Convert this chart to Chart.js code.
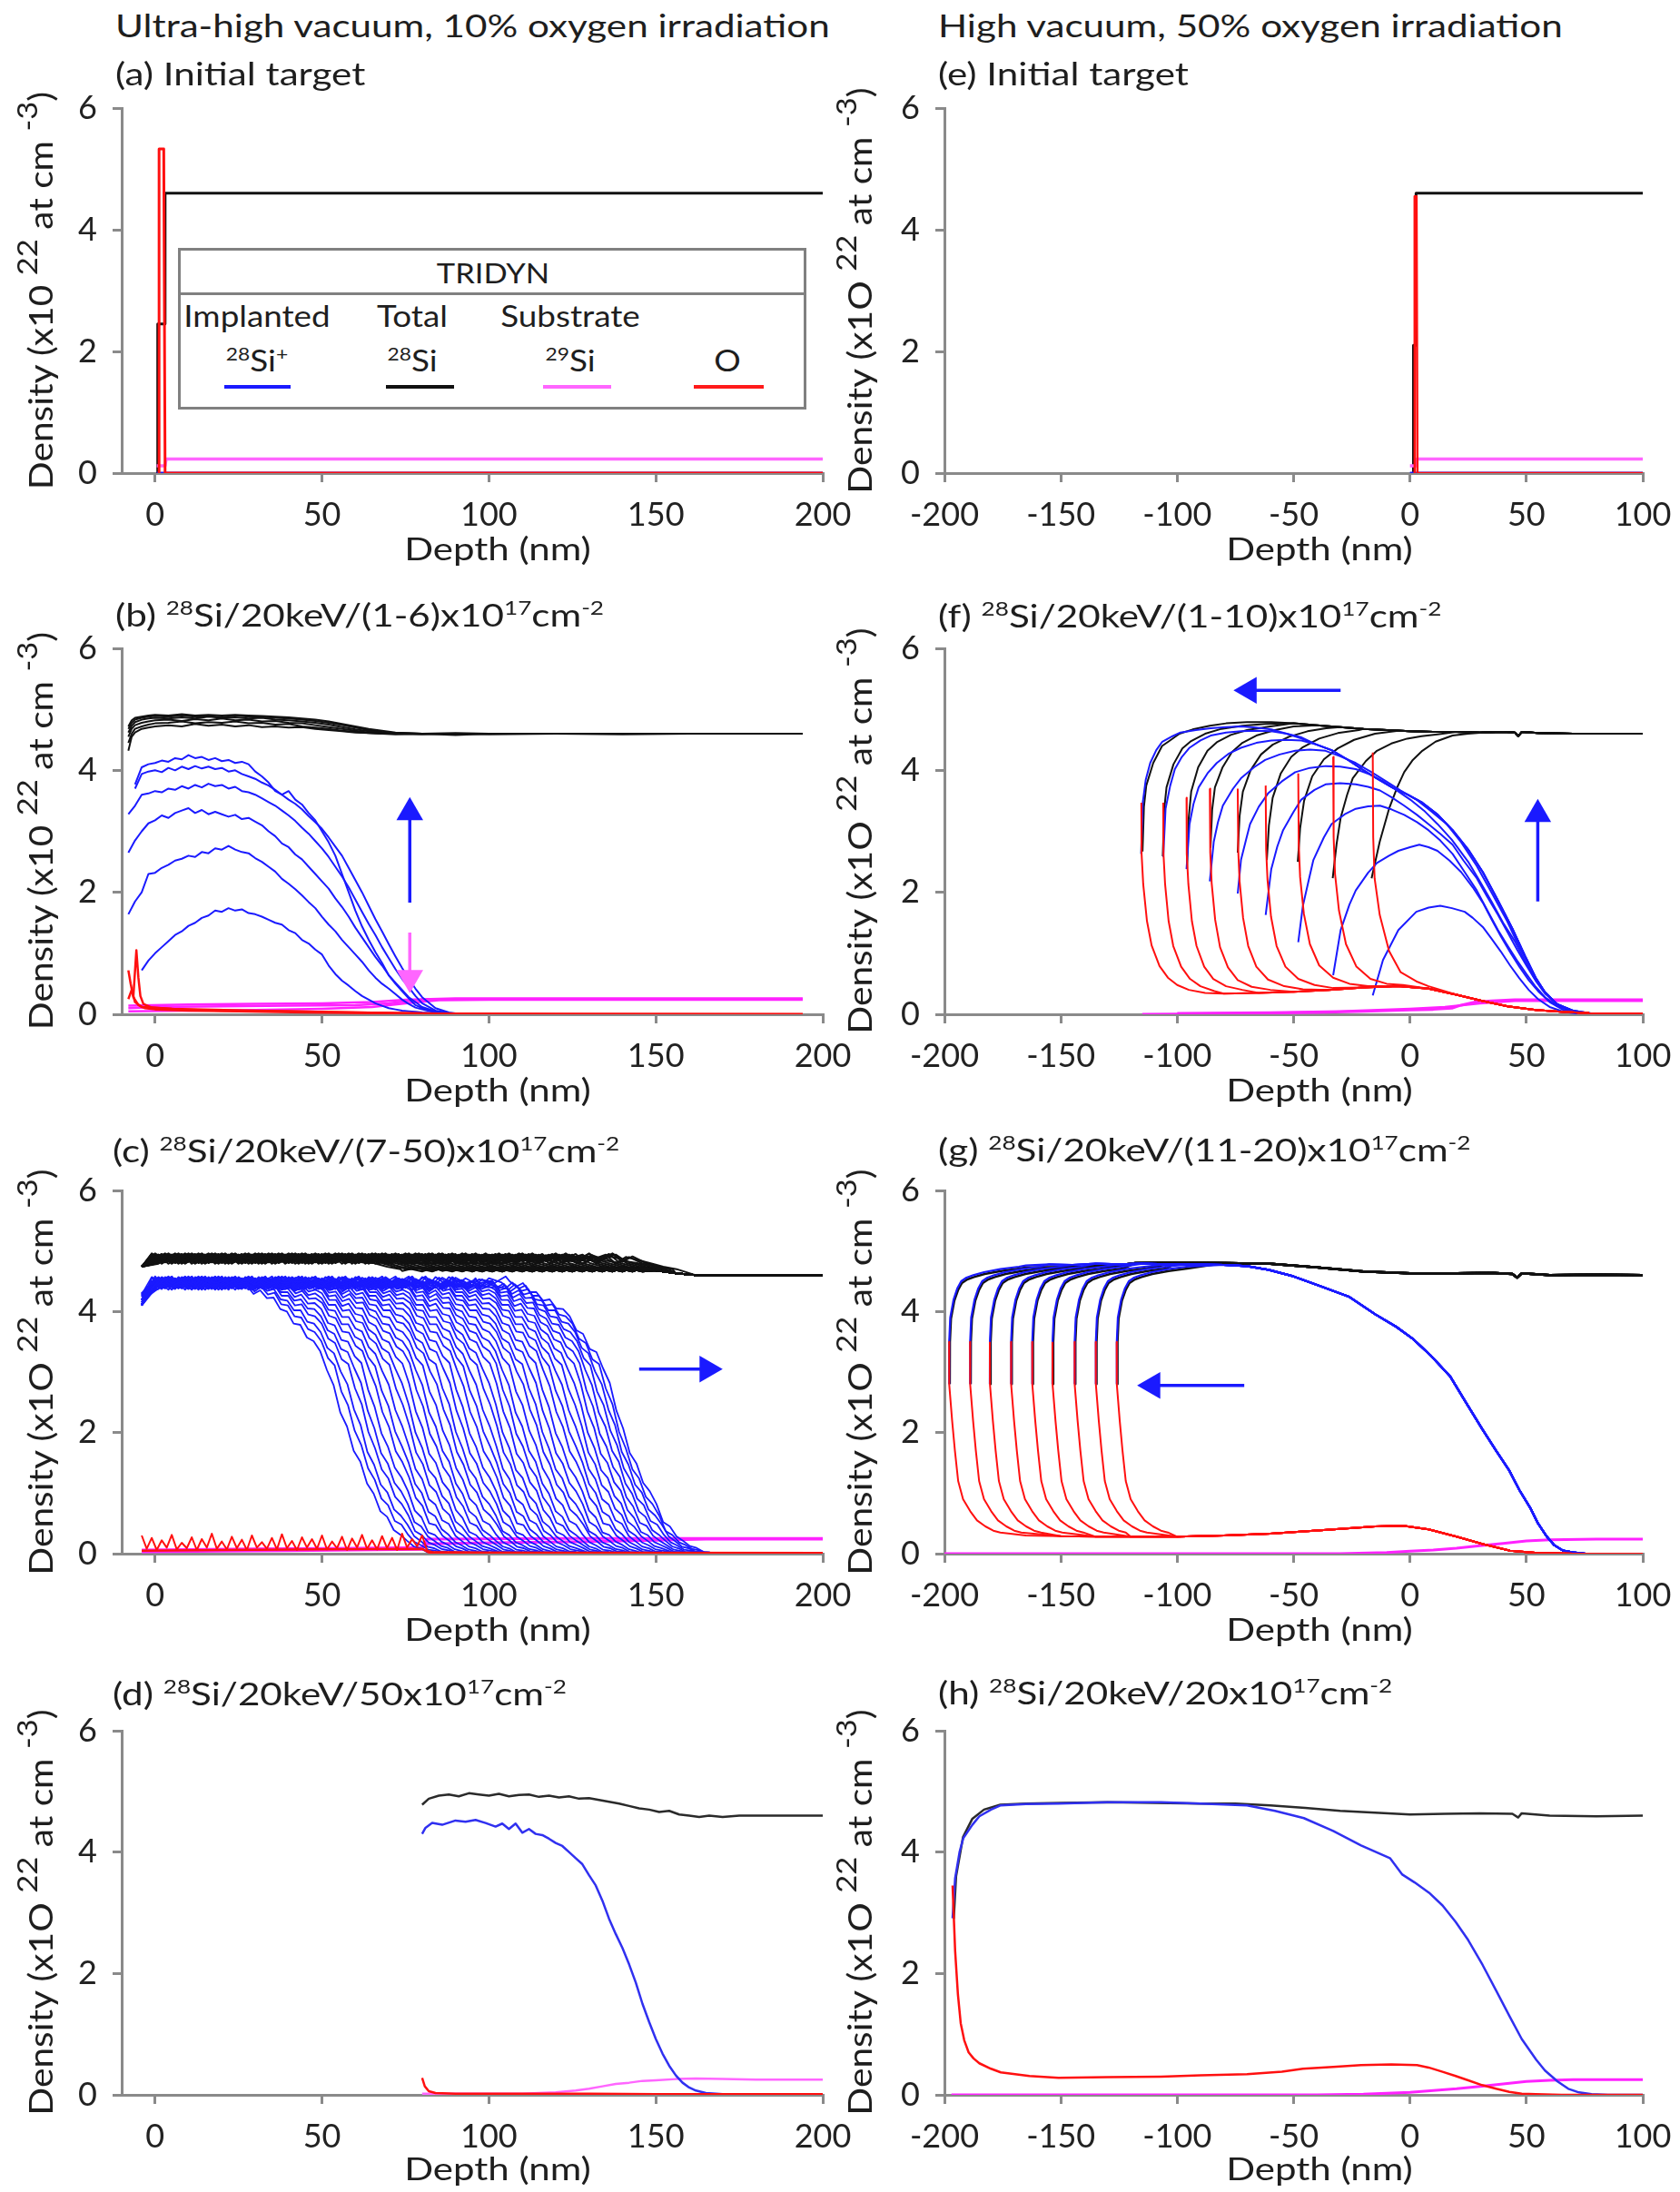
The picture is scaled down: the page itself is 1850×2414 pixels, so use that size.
<!DOCTYPE html>
<html>
<head>
<meta charset="utf-8">
<script src="https://cdn.jsdelivr.net/npm/chart.js@4.4.1/dist/chart.umd.min.js"></script>
<style>
  body { margin: 0; background: #fff; width: 1850px; height: 2414px; position: relative; overflow: hidden; font-family: Lato, sans-serif; color: #1e1e1e; }
  canvas { position: absolute; }
  .t { position: absolute; font-size: 34px; line-height: 1; white-space: nowrap; transform: translateY(-50%) scaleX(1.24); transform-origin: 0 50%; }
  .t sup, .lg sup { font-size: 0.62em; vertical-align: 0.62em; line-height: 0; }
  .c { position: absolute; font-size: 35px; line-height: 1; white-space: nowrap; transform: translate(-50%, -50%) scaleX(1.2); }
  .yt { position: absolute; font-size: 36px; line-height: 1; white-space: nowrap; transform: translate(-50%, -50%) rotate(-90deg) scaleX(1.13); }
  .yt .up { position: relative; top: -0.55em; font-size: 0.85em; }
  .legend { position: absolute; left: 196px; top: 273px; width: 692px; height: 178px; box-sizing: border-box; border: 3px solid #808080; background: #fff; }
  .lg { position: absolute; font-size: 32px; line-height: 1; white-space: nowrap; transform: translate(-50%, -50%) scaleX(1.15); }
  .sw { position: absolute; height: 4px; }
</style>
</head>
<body>
<div id="plots"></div>

<div class="t" style="left:127px;top:28px">Ultra-high vacuum, 10% oxygen irradiation</div>
<div class="t" style="left:1033px;top:28px">High vacuum, 50% oxygen irradiation</div>
<div class="t" style="left:127px;top:81px">(a) Initial target</div>
<div class="t" style="left:1033px;top:81px">(e) Initial target</div>
<div class="t" style="left:127px;top:677px">(b) <sup>28</sup>Si/20keV/(1-6)x10<sup>17</sup>cm<sup>-2</sup></div>
<div class="t" style="left:1033px;top:678px">(f) <sup>28</sup>Si/20keV/(1-10)x10<sup>17</sup>cm<sup>-2</sup></div>
<div class="t" style="left:124px;top:1267px">(c) <sup>28</sup>Si/20keV/(7-50)x10<sup>17</sup>cm<sup>-2</sup></div>
<div class="t" style="left:1033px;top:1266px">(g) <sup>28</sup>Si/20keV/(11-20)x10<sup>17</sup>cm<sup>-2</sup></div>
<div class="t" style="left:124px;top:1865px">(d) <sup>28</sup>Si/20keV/50x10<sup>17</sup>cm<sup>-2</sup></div>
<div class="t" style="left:1033px;top:1864px">(h) <sup>28</sup>Si/20keV/20x10<sup>17</sup>cm<sup>-2</sup></div>

<div class="c" style="left:548px;top:603px">Depth (nm)</div>
<div class="c" style="left:1453px;top:603px">Depth (nm)</div>
<div class="c" style="left:548px;top:1199px">Depth (nm)</div>
<div class="c" style="left:1453px;top:1199px">Depth (nm)</div>
<div class="c" style="left:548px;top:1793px">Depth (nm)</div>
<div class="c" style="left:1453px;top:1793px">Depth (nm)</div>
<div class="c" style="left:548px;top:2387px">Depth (nm)</div>
<div class="c" style="left:1453px;top:2387px">Depth (nm)</div>

<div class="yt" style="left:44px;top:320px">Density (x10 <span class="up">22</span> at cm <span class="up">-3</span>)</div>
<div class="yt" style="left:44px;top:915px">Density (x10 <span class="up">22</span> at cm <span class="up">-3</span>)</div>
<div class="yt" style="left:44px;top:1511px">Density (x1O <span class="up">22</span> at cm <span class="up">-3</span>)</div>
<div class="yt" style="left:44px;top:2106px">Density (x1O <span class="up">22</span> at cm <span class="up">-3</span>)</div>
<div class="yt" style="left:946px;top:320px">Density (x1O <span class="up">22</span> at cm <span class="up">-3</span>)</div>
<div class="yt" style="left:946px;top:915px">Density (x1O <span class="up">22</span> at cm <span class="up">-3</span>)</div>
<div class="yt" style="left:946px;top:1511px">Density (x1O <span class="up">22</span> at cm <span class="up">-3</span>)</div>
<div class="yt" style="left:946px;top:2106px">Density (x1O <span class="up">22</span> at cm <span class="up">-3</span>)</div>

<div class="legend"><div style="position:absolute;left:0;right:0;top:46px;height:3px;background:#808080"></div></div>
<div class="lg" style="left:543px;top:300px;font-size:30px">TRIDYN</div>
<div class="lg" style="left:283px;top:348px">Implanted</div>
<div class="lg" style="left:454px;top:348px">Total</div>
<div class="lg" style="left:628px;top:348px">Substrate</div>
<div class="lg" style="left:283px;top:397px"><sup>28</sup>Si<sup>+</sup></div>
<div class="lg" style="left:454px;top:397px"><sup>28</sup>Si</div>
<div class="lg" style="left:628px;top:397px"><sup>29</sup>Si</div>
<div class="lg" style="left:801px;top:397px">O</div>
<div class="sw" style="left:247px;top:424px;width:73px;background:#1a1aff"></div>
<div class="sw" style="left:425px;top:424px;width:75px;background:#111"></div>
<div class="sw" style="left:598px;top:424px;width:75px;background:#ff66ff"></div>
<div class="sw" style="left:764px;top:424px;width:77px;background:#ff1a1a"></div>

<script>
// ---------------- axes ----------------
const leftTicks = [0, 50, 100, 150, 200];
const rightTicks = [-200, -150, -100, -50, 0, 50, 100];
const yTicks = [0, 2, 4, 6];

// ---------------- (a) initial target, UHV ----------------
const aBlue = [[0.5, 0], [200, 0]];
const aTotal = [[0.8, 0], [0.8, 2.45], [3, 2.45], [3, 4.6], [200, 4.6]];
const aSub = [[0.5, 0.12], [3, 0.12], [3.3, 0.23], [200, 0.23]];
const aO = [[1.2, 0], [1.2, 5.33], [2.6, 5.33], [3, 0], [200, 0]];

// ---------------- (e) initial target, HV ----------------
const eBlue = [[0, 0], [100, 0]];
const eTotal = [[1.5, 0], [1.5, 2.1], [2.6, 2.1], [2.6, 4.6], [100, 4.6]];
const eSub = [[0, 0.12], [2.6, 0.12], [3, 0.23], [100, 0.23]];
const eO = [[2, 0], [2, 4.55], [2.8, 4.55], [3.2, 0], [100, 0]];

// ---------------- (b) 1-6 x10^17 ----------------
const bX = [-8,-6,-4,-2,0,2,4,6,8,10,12,14,16,18,20,22,24,26,28,30,32,34,36,38,40,42,44,46,48,50,52,54,56,58,60,62,64,66,68,70,72,74,76,78,80,84,88,92];
const bBlue1 = [null,null,0.72,0.88,1.0,1.1,1.2,1.3,1.36,1.45,1.5,1.58,1.62,1.7,1.68,1.74,1.7,1.72,1.66,1.64,1.6,1.55,1.5,1.47,1.38,1.33,1.22,1.16,1.06,0.98,0.8,0.66,0.55,0.47,0.38,0.3,0.24,0.18,0.14,0.1,0.08,0.06,0.05,0.04,0.03,0.02,0.01,0];
const bBlue2 = [1.64,1.85,2.0,2.3,2.32,2.4,2.45,2.52,2.55,2.6,2.58,2.66,2.64,2.72,2.7,2.76,2.7,2.66,2.64,2.56,2.5,2.42,2.34,2.22,2.14,2.05,1.95,1.84,1.74,1.6,1.47,1.36,1.22,1.1,0.98,0.86,0.72,0.6,0.5,0.42,0.33,0.24,0.17,0.11,0.08,0.03,0.01,0];
const bBlue3 = [2.65,2.85,3.0,3.13,3.18,3.26,3.22,3.3,3.34,3.38,3.3,3.35,3.28,3.32,3.28,3.24,3.27,3.2,3.22,3.16,3.1,3.0,2.92,2.8,2.74,2.62,2.54,2.42,2.3,2.18,2.06,1.9,1.76,1.6,1.42,1.26,1.1,0.94,0.8,0.64,0.52,0.4,0.28,0.2,0.12,0.05,0.02,0];
const bBlue4 = [3.28,3.42,3.6,3.62,3.66,3.64,3.7,3.68,3.74,3.7,3.76,3.72,3.78,3.74,3.76,3.7,3.73,3.66,3.64,3.6,3.54,3.48,3.42,3.34,3.26,3.17,3.06,2.96,2.84,2.72,2.58,2.42,2.26,2.08,1.88,1.68,1.48,1.3,1.1,0.92,0.74,0.58,0.44,0.3,0.18,0.06,0.02,0];
const bBlue5 = [null,3.7,3.94,3.98,4.0,3.97,4.04,4.0,4.06,4.02,4.07,4.03,4.06,4.02,4.04,3.98,4.0,3.94,3.9,3.86,3.8,3.75,3.68,3.6,3.52,3.45,3.36,3.25,3.15,3.04,2.9,2.75,2.6,2.4,2.2,2.0,1.78,1.56,1.36,1.15,0.95,0.76,0.58,0.42,0.28,0.1,0.03,0];
const bBlue6 = [null,3.77,4.05,4.1,4.12,4.16,4.14,4.2,4.18,4.25,4.2,4.22,4.17,4.2,4.15,4.17,4.12,4.14,4.1,3.98,3.9,3.8,3.66,3.6,3.66,3.52,3.44,3.3,3.18,3.0,2.82,2.6,2.3,2.0,1.7,1.44,1.22,1.02,0.84,0.64,0.5,0.38,0.26,0.15,0.1,0.03,0.01,0];
const bBlackX = [-8,-7,-6,-4,-2,0,4,8,12,16,20,24,28,32,36,40,44,48,52,56,60,64,68,72,80,90,100,120,140,160,180,194];
const bBlack1 = [4.32,4.55,4.62,4.68,4.7,4.72,4.74,4.72,4.76,4.73,4.75,4.72,4.74,4.71,4.72,4.7,4.71,4.68,4.66,4.64,4.62,4.61,4.6,4.6,4.59,4.6,4.59,4.6,4.6,4.6,4.6,4.6];
const bBlack2 = [4.45,4.6,4.68,4.72,4.75,4.77,4.78,4.8,4.77,4.79,4.78,4.8,4.77,4.78,4.75,4.76,4.72,4.7,4.68,4.65,4.63,4.61,4.6,4.59,4.6,4.58,4.6,4.6,4.59,4.6,4.6,4.6];
const bBlack3 = [4.55,4.68,4.74,4.78,4.8,4.82,4.83,4.81,4.84,4.82,4.85,4.82,4.83,4.8,4.81,4.78,4.77,4.74,4.71,4.68,4.65,4.62,4.61,4.6,4.6,4.6,4.6,4.6,4.6,4.6,4.6,4.6];
const bBlack4 = [4.62,4.73,4.79,4.83,4.85,4.86,4.85,4.87,4.85,4.88,4.86,4.87,4.85,4.86,4.83,4.82,4.8,4.78,4.75,4.71,4.67,4.64,4.62,4.61,4.6,4.6,4.6,4.6,4.6,4.6,4.6,4.6];
const bBlack5 = [4.68,4.78,4.83,4.86,4.88,4.89,4.88,4.9,4.88,4.89,4.87,4.9,4.88,4.87,4.86,4.85,4.83,4.81,4.78,4.74,4.7,4.66,4.63,4.61,4.6,4.61,4.6,4.6,4.6,4.6,4.6,4.6];
const bBlack6 = [4.72,4.82,4.86,4.88,4.9,4.91,4.9,4.92,4.9,4.91,4.9,4.91,4.9,4.89,4.88,4.87,4.85,4.83,4.8,4.76,4.72,4.68,4.65,4.62,4.6,4.6,4.6,4.6,4.6,4.6,4.6,4.6];
const bRed1 = [[-8,0.72],[-7.3,0.5],[-6.5,0.28],[-5,0.15],[-3,0.1],[0,0.08],[10,0.06],[25,0.05],[45,0.03],[65,0.02],[85,0.01],[120,0],[194,0]];
const bRed2 = [[-6.5,0.3],[-5.6,1.05],[-5,0.6],[-4.4,0.3],[-3.5,0.17],[-1,0.11],[8,0.08],[20,0.06],[40,0.05],[60,0.03],[80,0.01],[194,0]];
const bRed3 = [[-8,0.25],[-7,0.4],[-6,0.2],[-4,0.12],[5,0.09],[30,0.06],[60,0.03],[100,0],[194,0]];
const bSub1 = [[-8,0.1],[0,0.12],[20,0.13],[40,0.14],[60,0.15],[70,0.18],[76,0.22],[82,0.25],[120,0.25],[194,0.25]];
const bSub2 = [[-8,0.05],[10,0.06],[30,0.07],[50,0.09],[65,0.12],[75,0.18],[85,0.23],[100,0.24],[194,0.24]];
const bSub3 = [[-8,0.14],[10,0.16],[30,0.17],[50,0.18],[65,0.2],[75,0.24],[90,0.26],[194,0.26]];
const bArrowUp = [[76.3, 1.83], [76.3, 3.31]];
const bArrowDown = [[76.3, 1.34], [76.3, 0.6]];

// ---------------- (c) 7-50 x10^17 ----------------
// depth where each implanted profile crosses 2 x10^22 (one per dose)
const cHalfDepth = [57.5,59.8,61.6,63.9,65.7,67.8,70.1,71.9,74,76.2,78,80.1,82.3,84.1,86.2,88.4,90.1,92.3,94.2,96.4,98.3,100.2,102.4,104.1,106.3,108.2,110,112.1,114.3,116,118.1,120,122.2,124,125.9,127.8,129.6,131.5,133.2,134.9,136.4,137.8,139,140.2];
const cPlatX = [-4,-1,2,5,8,11,14,17,20,23,26,29,32,35,38,41,44,47,50,53,56,59,62,65,68,71,74,77,80,83,86,89,92,95,98,101,104,107,110,113,116,119,122,125,128,131,134,137,140,143,146];
const cBlueStart = [4.15, 4.28, 4.2, 4.1, 4.25, 4.18, 4.3, 4.12];
const cBluePlat = [4.46,4.38,4.55,4.42,4.5,4.36,4.57,4.45,4.4,4.53,4.44,4.49,4.37,4.56,4.47,4.52,4.41,4.48,4.58,4.39,4.51,4.43,4.55,4.46,4.4,4.54,4.45,4.5,4.42];
const cEdgeDx = [-34,-32,-30,-28,-26,-24,-22,-20,-18,-16,-14,-12,-10,-8,-6,-4,-2,0,2,4,6,8,10,12,14,16,18,20,22,24,26];
const cEdgeV = [4.45,4.43,4.4,4.36,4.3,4.24,4.16,4.08,3.98,3.86,3.74,3.6,3.45,3.28,3.08,2.75,2.4,2.05,1.72,1.45,1.2,0.97,0.76,0.57,0.42,0.3,0.2,0.13,0.08,0.04,0.02];
const cEdgeJitter = [0.06,-0.05,0.03,-0.07,0.05,-0.02,0.07,-0.04,0.02,-0.06,0.04,-0.03,0.06];
const cBlackPlat = [4.9,4.84,4.93,4.87,4.95,4.82,4.91,4.88,4.94,4.79,4.9,4.86,4.96,4.85,4.92,4.8,4.89,4.94,4.83,4.91,4.87,4.95,4.81];
const cBlackDrop = [[8,4.8],[12,4.74],[16,4.7]];
const cBlackHold = [4.7,4.66,4.72,4.68,4.74,4.67,4.71];
const cBlackTail = [[150,4.68],[156,4.63],[162,4.6],[180,4.6],[200,4.6]];
const cRedX = [-4,-2.5,-1,0.5,2,3.5,5,6.5,8,9.5,11,12.5,14,15.5,17,18.5,20,21.5,23,24.5,26,27.5,29,30.5,32,33.5,35,36.5,38,39.5,41,42.5,44,45.5,47,48.5,50,51.5,53,54.5,56,57.5,59,60.5,62,63.5,65,66.5,68,69.5,71,72.5,74,75.5,77,78.5,80,81.5];
const cRedY = [0.3,0.08,0.26,0.06,0.22,0.1,0.31,0.07,0.18,0.09,0.27,0.06,0.24,0.1,0.33,0.08,0.2,0.07,0.28,0.09,0.23,0.06,0.3,0.1,0.19,0.08,0.26,0.07,0.32,0.09,0.21,0.06,0.27,0.1,0.24,0.08,0.3,0.07,0.2,0.09,0.28,0.06,0.25,0.1,0.31,0.08,0.22,0.07,0.29,0.09,0.26,0.06,0.33,0.1,0.24,0.12,0.3,0.05];
const cRedTail = [[83,0.03],[100,0.02],[150,0.01],[200,0.01]];
const cRed2 = [[-4,0.05],[20,0.06],[50,0.07],[80,0.08],[82,0.02],[200,0.01]];
const cSub1 = [[-4,0.03],[20,0.04],[40,0.05],[60,0.06],[80,0.07],[81,0.16],[100,0.18],[130,0.2],[150,0.22],[165,0.24],[200,0.24]];
const cSub2 = [[-4,0.06],[30,0.08],[60,0.09],[80,0.1],[81.5,0.24],[120,0.25],[160,0.25],[200,0.25]];
const cArrow = [[145, 3.05], [165.4, 3.05]];

// ---------------- (d) 50 x10^17 ----------------
const dBlueX = [80,81,83,86,90,93,96,99,102,104,106,108,110,112,114,116,118,120,122,124,126,128,130,132,134,136,138,140,142,144,146,148,150,152,154,156,158,160,162,165,170,180,200];
const dBlueY = [4.3,4.4,4.48,4.45,4.52,4.5,4.53,4.48,4.42,4.47,4.38,4.47,4.32,4.38,4.3,4.28,4.22,4.15,4.1,4.0,3.9,3.8,3.62,3.45,3.2,2.9,2.65,2.42,2.15,1.85,1.5,1.2,0.92,0.68,0.48,0.32,0.2,0.12,0.07,0.03,0.01,0,0];
const dBlackX = [80,82,85,88,91,94,97,100,103,106,109,112,115,118,121,124,127,130,133,136,139,142,145,148,151,154,157,160,163,166,170,175,180,190,200];
const dBlackY = [4.78,4.88,4.93,4.95,4.92,4.97,4.95,4.93,4.96,4.92,4.94,4.95,4.91,4.93,4.9,4.92,4.88,4.89,4.86,4.83,4.8,4.76,4.72,4.7,4.66,4.68,4.62,4.6,4.58,4.6,4.58,4.6,4.6,4.6,4.6];
const dRedX = [80,80.8,82,84,90,110,130,150,170,200];
const dRedY = [0.28,0.14,0.06,0.03,0.02,0.02,0.02,0.01,0.01,0.01];
const dSubX = [80,90,100,110,120,126,130,134,138,142,146,150,156,162,170,180,200];
const dSubY = [0.02,0.02,0.02,0.02,0.04,0.07,0.1,0.14,0.18,0.2,0.23,0.24,0.26,0.27,0.26,0.25,0.25];

// ---------------- (f) 1-10 x10^17 ----------------
const fBlue = [
  [[-16,0.31],[-11.6,0.89],[-5,1.38],[2.7,1.68],[8,1.75],[13,1.78],[18,1.74],[23.5,1.68],[27,1.58],[31.3,1.43],[35,1.24],[39,1.03],[43,0.8],[47,0.59],[51,0.4],[55,0.25],[60,0.12],[66,0.04],[72,0.01]],
  [[-33,0.64],[-29.8,1.38],[-26,1.8],[-23.3,2.03],[-18,2.32],[-14.2,2.48],[-9,2.6],[-5,2.68],[0,2.74],[4,2.78],[8,2.74],[11.8,2.68],[17,2.52],[22,2.33],[27,2.08],[31.3,1.83],[35,1.56],[39,1.28],[43,1.02],[47,0.78],[51,0.56],[55,0.38],[60,0.2],[66,0.07],[72,0.02]],
  [[-48,1.18],[-46,1.78],[-43.5,2.2],[-41.5,2.53],[-37,2.9],[-33.7,3.12],[-28,3.28],[-23.3,3.37],[-18,3.41],[-12.9,3.42],[-8,3.36],[-2.5,3.27],[3,3.15],[7.9,3.02],[13,2.85],[18.3,2.63],[23,2.36],[28.7,2.03],[33,1.72],[37.8,1.38],[42,1.12],[46,0.88],[50,0.66],[54,0.45],[58,0.28],[63,0.14],[70,0.04],[76,0.01]],
  [[-62,1.63],[-59.6,2.38],[-57,2.75],[-54.5,3.02],[-50,3.32],[-46.7,3.52],[-41,3.68],[-36.3,3.77],[-30,3.79],[-23.3,3.77],[-18,3.73],[-12.9,3.67],[-8,3.56],[-2.5,3.42],[3,3.27],[7.9,3.12],[13,2.96],[18.3,2.78],[23,2.52],[28.7,2.23],[33,1.94],[37.8,1.63],[42,1.34],[46,1.06],[50,0.8],[54,0.55],[58,0.34],[63,0.17],[70,0.05],[77,0.01]],
  [[-74,1.98],[-72.6,2.53],[-70.5,2.85],[-68.7,3.12],[-65,3.4],[-61,3.62],[-55,3.82],[-49.3,3.97],[-43,4.04],[-36.3,4.07],[-30,4.06],[-23.3,4.02],[-17,3.93],[-11.6,3.82],[-6,3.68],[0.1,3.52],[6,3.34],[11.8,3.12],[18,2.86],[25,2.5],[30,2.18],[35,1.85],[40,1.5],[45,1.2],[49,0.9],[53,0.62],[57,0.4],[62,0.2],[68,0.07],[75,0.01]],
  [[-86,2.18],[-84.3,2.83],[-82.5,3.15],[-80.4,3.42],[-76,3.7],[-72.6,3.87],[-67,4.05],[-62.2,4.17],[-56,4.26],[-49.3,4.32],[-43,4.34],[-36.3,4.32],[-30,4.23],[-23.3,4.12],[-17,3.98],[-10.3,3.82],[-4,3.67],[2.7,3.52],[9,3.33],[15.7,3.12],[22,2.82],[28.7,2.43],[35,2.0],[41.7,1.53],[46,1.18],[50,0.88],[54,0.58],[58,0.36],[63,0.17],[70,0.05],[77,0.01]],
  [[-96,2.38],[-94.7,3.12],[-93,3.45],[-90.8,3.72],[-87,3.95],[-83,4.12],[-78,4.27],[-72.6,4.37],[-66,4.45],[-59.6,4.49],[-53,4.5],[-46.6,4.49]],
  [[-106,2.58],[-105,3.37],[-103,3.75],[-101,4.02],[-98,4.22],[-94.7,4.37],[-90,4.49],[-85.6,4.57],[-79,4.62],[-72.6,4.64],[-66,4.65],[-59.6,4.64],[-53,4.6],[-46.6,4.54]],
  [[-115.5,2.63],[-114.8,3.47],[-113.5,3.85],[-111.6,4.12],[-109,4.33],[-106.4,4.47],[-102,4.56],[-98.6,4.62],[-92,4.66],[-85.6,4.69],[-79,4.71],[-72.6,4.72],[-66,4.7],[-59.6,4.67],[-53,4.6],[-46.6,4.52]]
];
const fBlueEdge = [[-40,4.42],[-33.7,4.33],[-27,4.18],[-20.7,4.02],[-14,3.86],[-7.7,3.72],[-1,3.6],[5.3,3.47],[12,3.27],[18.3,3.02],[25,2.7],[31.3,2.33],[38,1.85],[44.3,1.38],[49.5,0.95],[54,0.6],[58,0.36],[63,0.17],[70,0.06],[77,0.02],[80,0]];
const fRed = [
  [[-16,4.29],[-15.8,2.9],[-15.2,2.23],[-13,1.63],[-9,1.04],[-4,0.69],[2.7,0.54],[8,0.46]],
  [[-33,4.22],[-32.8,2.9],[-32.2,2.3],[-30.5,1.7],[-27.5,1.15],[-23,0.78],[-17,0.58],[-10,0.5],[-3,0.48]],
  [[-48,3.95],[-47.8,2.8],[-47.2,2.25],[-45.6,1.65],[-43,1.15],[-39,0.8],[-33,0.6],[-26,0.5],[-18,0.46]],
  [[-62,3.75],[-61.8,2.7],[-61.2,2.2],[-59.7,1.6],[-57.3,1.12],[-53.5,0.78],[-48,0.58],[-41,0.48],[-33,0.43]],
  [[-74,3.7],[-73.8,2.7],[-73.2,2.18],[-71.7,1.58],[-69.5,1.12],[-66,0.78],[-61,0.57],[-54,0.46],[-46,0.41]],
  [[-86,3.7],[-85.8,2.65],[-85.2,2.15],[-83.7,1.55],[-81.6,1.1],[-78.2,0.77],[-74,0.56],[-68,0.45],[-60,0.4]],
  [[-96,3.55],[-95.9,2.63],[-95.2,2.13],[-93.7,1.53],[-91.7,1.12],[-88.4,0.78],[-84.5,0.58],[-79,0.46],[-72,0.4]],
  [[-106,3.47],[-105.9,2.63],[-105.2,2.13],[-103.7,1.53],[-101.7,1.12],[-98.3,0.78],[-94.5,0.58],[-90,0.46],[-84,0.38]],
  [[-115.4,3.47],[-115.3,2.63],[-114.6,2.13],[-113,1.53],[-111,1.13],[-107.6,0.79],[-104,0.6],[-100,0.48],[-95,0.4],[-88,0.35]]
];
const fRedTail = [[-80,0.34],[-65,0.35],[-50,0.37],[-35,0.4],[-20,0.44],[-5,0.46],[8,0.42],[20,0.32],[31,0.22],[42,0.13],[54,0.07],[65,0.04],[77,0.02],[100,0.01]];
const fBlack = [
  [[-16.5,2.23],[-13,2.83],[-9,3.37],[-5.5,3.72],[-2.5,3.97],[1,4.16],[5.3,4.32],[11,4.47],[18.3,4.57],[25,4.6],[31.3,4.62]],
  [[-33.2,2.23],[-31.5,2.8],[-29.8,3.22],[-27,3.6],[-24.6,3.87],[-19,4.15],[-14.2,4.32],[-8,4.44],[-1.2,4.52],[5,4.56],[11.8,4.59]],
  [[-48.2,2.5],[-47.2,3.05],[-45.5,3.5],[-42,3.9],[-37,4.18],[-31,4.36],[-24,4.5],[-15,4.6],[-5,4.65]],
  [[-61.5,2.53],[-60.6,3.1],[-59,3.55],[-55.5,3.95],[-51,4.22],[-46,4.38],[-39,4.52],[-31,4.61],[-22,4.66]],
  [[-74,2.65],[-73.2,3.25],[-71.8,3.65],[-68.5,4.0],[-64,4.26],[-59,4.42],[-52,4.55],[-44,4.64],[-36,4.69]],
  [[-85.7,2.73],[-85,3.35],[-83.8,3.72],[-80.5,4.05],[-76.5,4.3],[-72,4.45],[-66,4.57],[-58,4.66],[-50,4.72]],
  [[-95.8,2.39],[-95.1,3.2],[-94,3.65],[-91,4.05],[-87,4.32],[-83,4.46],[-77,4.58],[-70,4.66],[-60,4.72]],
  [[-106.2,2.59],[-105.6,3.35],[-104.6,3.72],[-101.6,4.1],[-97.8,4.36],[-94,4.48],[-88,4.6],[-81,4.68],[-72,4.73],[-62,4.76]],
  [[-114.9,2.67],[-114.3,3.4],[-113.3,3.75],[-110.3,4.12],[-106.5,4.4],[-103.8,4.47],[-99,4.6],[-93.4,4.67],[-86,4.73],[-79,4.77],[-70,4.79],[-59.6,4.79]]
];
const fBlackPlat = [[-50,4.77],[-40,4.74],[-30,4.71],[-20,4.68],[-10,4.66],[0,4.64],[10,4.63],[20,4.63],[30,4.62],[40,4.63],[45,4.62],[46.5,4.56],[48,4.63],[55,4.61],[70,4.6],[85,4.6],[100,4.6]];
const fSub1 = [[-115,0],[-100,0.005],[-80,0.01],[-60,0.02],[-40,0.03],[-20,0.05],[0,0.07],[10,0.08],[18,0.1],[22,0.15],[28,0.2],[35,0.22],[45,0.24],[60,0.24],[80,0.24],[100,0.24]];
const fSub2 = [[-100,0.02],[-60,0.03],[-30,0.05],[0,0.09],[15,0.12],[30,0.18],[45,0.22],[100,0.22]];
const fArrowLeft = [[-29.8, 5.31], [-69.2, 5.31]];
const fArrowUp = [[54.9, 1.85], [54.9, 3.28]];

// ---------------- (g) 11-20 x10^17 ----------------
const gSurface = [-126, -135, -144.1, -153.6, -162.3, -171.4, -180.5, -189, -198];
const gBlueRise = [[0,2.8],[0.05,3.5],[0.5,3.9],[1.95,4.2],[3.5,4.38],[5.2,4.5],[7.5,4.56],[10.4,4.6],[15,4.65],[22,4.7],[30,4.74]];
const gBlueEdge = [[-165,4.76],[-155,4.78],[-145,4.77],[-135,4.79],[-125,4.78],[-115,4.79],[-105,4.78],[-95,4.78],[-80,4.77],[-70,4.75],[-60.8,4.69],[-50,4.58],[-40,4.44],[-26,4.24],[-14.8,3.95],[-6,3.75],[1.2,3.55],[9,3.27],[17.4,2.92],[24,2.5],[31,2.06],[37,1.7],[42.7,1.37],[47,1.05],[51.9,0.74],[55,0.5],[58.8,0.28],[62,0.14],[65.7,0.05],[70,0.02],[75.5,0]];
const gRedDrop = [[0,3.5],[0.05,2.8],[1.3,2.2],[2.5,1.7],[3.9,1.2],[6,0.9],[9.1,0.7],[12,0.55],[15.6,0.45],[19,0.38],[22,0.35]];
const gRedTail = [[-180,0.32],[-165,0.3],[-150,0.29],[-135,0.28],[-120,0.28],[-100,0.28],[-80,0.3],[-60,0.33],[-37,0.39],[-15,0.45],[-3,0.46],[8,0.4],[20,0.28],[31,0.16],[43,0.05],[55,0.01],[70,0],[100,0]];
const gBlackRise = [[0.3,2.8],[0.35,3.5],[0.8,3.88],[2.25,4.18],[3.8,4.35],[5.5,4.47],[7.8,4.53],[10.7,4.57],[15.3,4.62],[22.3,4.67],[30.3,4.71]];
const gBlackPlat = [[-165,4.73],[-140,4.74],[-126,4.76],[-118,4.8],[-100,4.81],[-80,4.8],[-60,4.79],[-40,4.73],[-20,4.66],[0,4.63],[20,4.63],[35,4.64],[44,4.62],[46,4.56],[48,4.63],[60,4.6],[80,4.61],[100,4.6]];
const gSub = [[-200,0],[-100,0],[-30,0],[-10,0.02],[0,0.04],[10,0.06],[20,0.09],[30,0.13],[40,0.17],[50,0.21],[60,0.23],[80,0.24],[100,0.24]];
const gArrowLeft = [[-71.2, 2.78], [-110.6, 2.78]];

// ---------------- (h) 20 x10^17 ----------------
const hBlueX = [-196.5,-195.4,-193.5,-191.9,-188,-185,-180,-175.8,-165,-151,-130,-107,-90,-70,-58,-45.6,-33,-21,-8.6,-3.3,2,8.2,14,19.6,25,31.2,37,42.7,48,54.2,58,63.4,68,72.6,78,85,100];
const hBlueY = [2.91,3.57,4.0,4.23,4.45,4.59,4.7,4.77,4.79,4.8,4.82,4.82,4.8,4.77,4.68,4.56,4.35,4.11,3.9,3.63,3.5,3.33,3.12,2.85,2.55,2.14,1.72,1.3,0.92,0.58,0.4,0.22,0.1,0.04,0.01,0,0];
const hRedX = [-196.5,-195.4,-194.2,-193,-191.5,-189.6,-187.5,-185,-180,-175.8,-163.5,-151,-130,-107,-90,-70,-55,-46,-33,-21,-8,3,8,14,19.6,25,31,37,42.7,48,54,65,80,100];
const hRedY = [3.45,2.37,1.65,1.18,0.9,0.7,0.6,0.52,0.43,0.37,0.31,0.28,0.29,0.3,0.32,0.34,0.38,0.43,0.46,0.49,0.5,0.49,0.45,0.38,0.31,0.24,0.16,0.1,0.05,0.02,0.01,0,0,0];
const hBlackX = [-196,-195,-192,-188,-183,-176,-165,-150,-130,-110,-90,-75,-60,-45,-30,-15,0,15,30,44,46.5,48,60,80,100];
const hBlackY = [2.9,3.6,4.25,4.55,4.7,4.78,4.8,4.81,4.82,4.81,4.8,4.8,4.77,4.73,4.68,4.65,4.62,4.63,4.64,4.63,4.57,4.64,4.6,4.59,4.6];
const hSubX = [-197,-100,-40,-20,0,10,20,30,40,50,60,70,100];
const hSubY = [0,0,0,0.01,0.04,0.07,0.1,0.14,0.18,0.22,0.24,0.25,0.25];

// ---------------- colours ----------------
const BLUE = "#1a1aff", BLACK = "#111111", MAGENTA = "#ff22ff", RED = "#ff1010", PINK = "#ff66ff", AXIS = "#8a8a8a";

// ---------------- helpers ----------------
const pair = arr => arr.map(([x, y]) => ({ x, y }));
const xy = (xs, ys) => xs.map((x, i) => ({ x, y: ys[i] })).filter(p => p.y !== null);
const after = (pts, tail) => pts.concat(tail.filter(p => p[0] > pts[pts.length - 1][0]));

function line(data, color, width, order) {
  return { data, borderColor: color, borderWidth: width, showLine: true, pointRadius: 0,
           borderJoinStyle: "round", fill: false, tension: 0, order };
}
function arrow(pts, rot, color) {
  return { data: pair(pts), showLine: true, borderColor: color, borderWidth: 3.5,
           pointStyle: "triangle", pointRadius: [0, 17], pointRotation: [0, rot],
           pointBackgroundColor: color, pointBorderColor: color, pointBorderWidth: 0, order: 0 };
}

const ROWS = [[119, 521], [714, 1117], [1311, 1711], [1906, 2307]];
const COLS = [
  { l: 134, r: 906, min: -10, max: 200, ticks: leftTicks },
  { l: 1040, r: 1809, min: -200, max: 100, ticks: rightTicks }
];

function addChart(col, row, datasets) {
  const YW = 120, TP = 30, RP = 40, XH = 98;
  const c = COLS[col], [top, bottom] = ROWS[row];
  const w = YW + (c.r - c.l) + RP, h = TP + (bottom - top) + XH;
  const cv = document.createElement("canvas");
  cv.width = w; cv.height = h;
  Object.assign(cv.style, { left: (c.l - YW) + "px", top: (top - TP) + "px", width: w + "px", height: h + "px" });
  document.getElementById("plots").appendChild(cv);

  const grid = { drawOnChartArea: false, drawTicks: true, tickLength: 10, color: AXIS, lineWidth: 3 };
  const border = { display: true, color: AXIS, width: 3 };
  const font = { family: "Lato", size: 36 };

  new Chart(cv, {
    type: "scatter",
    data: { datasets },
    options: {
      responsive: false,
      animation: false,
      devicePixelRatio: 1,
      layout: { padding: { top: TP, right: RP, left: 0, bottom: 0 } },
      plugins: { legend: { display: false }, tooltip: { enabled: false } },
      scales: {
        x: {
          type: "linear", min: c.min, max: c.max,
          afterBuildTicks: s => { s.ticks = c.ticks.map(v => ({ value: v })); },
          afterFit: s => { s.height = XH; s.paddingLeft = 0; s.paddingRight = 0; },
          ticks: { font, color: "#222", padding: 15, maxRotation: 0, autoSkip: false },
          grid, border
        },
        y: {
          min: 0, max: 6,
          afterBuildTicks: s => { s.ticks = yTicks.map(v => ({ value: v })); },
          afterFit: s => { s.width = YW; s.paddingTop = 0; s.paddingBottom = 0; },
          ticks: { font, color: "#222", padding: 17 },
          grid, border
        }
      }
    }
  });
}

// (a)
addChart(0, 0, [
  line(pair(aTotal), BLACK, 3, 5),
  line(pair(aSub), PINK, 3.5, 4),
  line(pair(aBlue), BLUE, 3, 3),
  line(pair(aO), RED, 3, 2)
]);

// (e)
addChart(1, 0, [
  line(pair(eTotal), BLACK, 3, 5),
  line(pair(eSub), PINK, 3.5, 4),
  line(pair(eBlue), BLUE, 3, 3),
  line(pair(eO), RED, 2.5, 2)
]);

// (b)
addChart(0, 1, [
  ...[bBlack1, bBlack2, bBlack3, bBlack4, bBlack5, bBlack6].map(ys => line(xy(bBlackX, ys), BLACK, 2, 5)),
  ...[bSub1, bSub2, bSub3].map(p => line(pair(p), MAGENTA, 2.5, 4)),
  ...[bBlue1, bBlue2, bBlue3, bBlue4, bBlue5, bBlue6].map(ys => line(xy(bX, ys), BLUE, 2, 3)),
  ...[bRed1, bRed2, bRed3].map(p => line(pair(p), RED, 2.5, 2)),
  arrow(bArrowUp, 0, BLUE),
  arrow(bArrowDown, 180, PINK)
]);

// (c) one black and one blue profile per dose, shifted to the read half-depth
const cSets = [];
cHalfDepth.forEach((x2, i) => {
  const sh = i % 3;
  const pts = [{ x: -4, y: 4.74 }];
  cPlatX.forEach((x, j) => { if (j > 0 && x + sh < x2 + 6) pts.push({ x: x + sh, y: cBlackPlat[(j + 5 * i) % cBlackPlat.length] }); });
  cBlackDrop.forEach(([d, v]) => pts.push({ x: x2 + d, y: v }));
  cPlatX.forEach((x, j) => { if (x > x2 + 16 && x < 148) pts.push({ x, y: cBlackHold[(j + i) % cBlackHold.length] }); });
  cBlackTail.forEach(([x, v]) => { if (x > x2 + 16) pts.push({ x, y: v }); });
  cSets.push(line(pts, BLACK, 2, 5));
});
cHalfDepth.forEach((x2, i) => {
  const sh = i % 3;
  const pts = [{ x: -4, y: cBlueStart[i % cBlueStart.length] }];
  cPlatX.forEach((x, j) => { if (j > 0 && x + sh < x2 - 35) pts.push({ x: x + sh, y: cBluePlat[(j + 7 * i) % cBluePlat.length] }); });
  cEdgeDx.forEach((d, k) => {
    const v = cEdgeV[k], jit = cEdgeJitter[(k + i) % cEdgeJitter.length];
    pts.push({ x: x2 + d, y: Math.max(0, v + (v > 0.3 ? jit : jit * 0.2)) });
  });
  cSets.push(line(pts, BLUE, 1.8, 3));
});
addChart(0, 2, [
  ...cSets,
  line(pair(cSub1), MAGENTA, 3, 4),
  line(pair(cSub2), MAGENTA, 3, 4),
  line(xy(cRedX, cRedY).concat(pair(cRedTail)), RED, 2, 2),
  line(pair(cRed2), RED, 2.5, 2),
  arrow(cArrow, 90, BLUE)
]);

// (d)
addChart(0, 3, [
  line(xy(dBlackX, dBlackY), "#2a2a2a", 2.5, 5),
  line(xy(dSubX, dSubY), PINK, 2.5, 4),
  line(xy(dBlueX, dBlueY), "#3030f0", 2.5, 3),
  line(xy(dRedX, dRedY), RED, 2.5, 2)
]);

// (f)
addChart(1, 1, [
  ...fBlack.map(c => line(pair(after(c, fBlackPlat)), BLACK, 2, 5)),
  line(pair(fSub1), MAGENTA, 3, 4),
  line(pair(fSub2), MAGENTA, 2.5, 4),
  ...fBlue.map((c, i) => line(pair(i >= 6 ? after(c, fBlueEdge) : c), BLUE, 2, 3)),
  ...fRed.map(c => line(pair(after(c, fRedTail)), RED, 2, 2)),
  arrow(fArrowLeft, 270, BLUE),
  arrow(fArrowUp, 0, BLUE)
]);

// (g)
const gSets = [];
gSurface.forEach(s => {
  gSets.push(line(pair(after(gBlackRise.map(([d, v]) => [s + d, v]), gBlackPlat)), BLACK, 2.5, 5));
  gSets.push(line(pair(after(gBlueRise.map(([d, v]) => [s + d, v]), gBlueEdge.filter(p => p[0] > s + 31))), BLUE, 2.2, 3));
  gSets.push(line(pair(after(gRedDrop.map(([d, v]) => [s + d, v]), gRedTail.filter(p => p[0] > s + 24))), RED, 2, 2));
});
addChart(1, 2, [
  ...gSets,
  line(pair(gSub), MAGENTA, 3, 4),
  arrow(gArrowLeft, 270, BLUE)
]);

// (h)
addChart(1, 3, [
  line(xy(hBlackX, hBlackY), "#2a2a2a", 2.5, 5),
  line(xy(hSubX, hSubY), MAGENTA, 3, 4),
  line(xy(hBlueX, hBlueY), "#3030f0", 2.5, 3),
  line(xy(hRedX, hRedY), RED, 2.5, 2)
]);
</script>
</body>
</html>
